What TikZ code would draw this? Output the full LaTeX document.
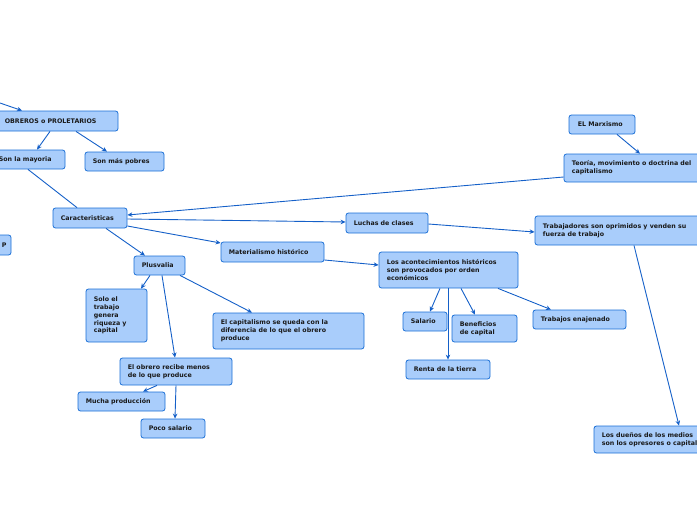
\documentclass[tikz,border=0pt]{standalone}
\usepackage{fontspec}
\setmainfont{DejaVu Sans}
\usetikzlibrary{arrows.meta}
\begin{document}
\begin{tikzpicture}[x=1pt,y=-1pt,
  box/.style={draw=bd,fill=bf,rounded corners=2.5pt,line width=0.8pt,inner sep=0pt},
  txt/.style={font=\bfseries\fontsize{6.3}{7.8}\selectfont,align=left,inner sep=0pt,text=black!90},
  ar/.style={draw=ln,line width=0.9pt,-{Stealth[length=5pt,width=4.5pt]}},
  pl/.style={draw=ln,line width=0.9pt}]
\definecolor{bd}{HTML}{1A6FD6}
\definecolor{bf}{HTML}{A9CDFB}
\definecolor{ln}{HTML}{1560C8}
\useasboundingbox (0,0) rectangle (697,520);
\clip (0,0) rectangle (697,520);
\newcommand\mybox[7]{%
  \pgfmathsetmacro\bw{#4-#2}\pgfmathsetmacro\bh{#5-#3}%
  \node[box,minimum width=\bw pt,minimum height=\bh pt] (#1) at ({(#2+#4)/2},{(#3+#5)/2}) {};
  \node[txt,anchor=west] at ([xshift=#6]#1.west) {#7};}
\mybox{obr}{-5}{111}{118}{131}{10}{OBREROS o PROLETARIOS}
\mybox{may}{-5}{150}{65}{169}{4}{Son la mayoria}
\mybox{pob}{85}{152}{164}{171}{8}{Son más pobres}
\mybox{car}{53}{208}{127}{228}{8}{Caracteristicas}
\mybox{pp}{-5}{235}{11}{255}{7}{P}
\mybox{plu}{134}{256}{185}{275}{8}{Plusvalia}
\mybox{mat}{221}{242}{324}{262}{8}{Materialismo histórico}
\mybox{luc}{346}{213}{428}{233}{8}{Luchas de clases}
\mybox{aco}{379}{252}{518}{288}{8}{Los acontecimientos históricos\\son provocados por orden\\económicos}
\mybox{mar}{569}{115}{635}{134}{9}{EL Marxismo}
\mybox{teo}{564}{154}{710}{182}{8}{Teoría, movimiento o doctrina del\\capitalismo}
\mybox{tra}{535}{216}{710}{245}{8}{Trabajadores son oprimidos y venden su\\fuerza de trabajo}
\mybox{sol}{86}{289}{147}{342}{8}{Solo el\\trabajo\\genera\\riqueza y\\capital}
\mybox{cap}{213}{313}{364}{349}{8}{El capitalismo se queda con la\\diferencia de lo que el obrero\\produce}
\mybox{rec}{120}{358}{232}{385}{8}{El obrero recibe menos\\de lo que produce}
\mybox{muc}{78}{392}{165}{411}{8}{Mucha producción}
\mybox{poc}{141}{419}{205}{438}{8}{Poco salario}
\mybox{sal}{403}{312}{447}{331}{8}{Salario}
\mybox{ben}{452}{315}{517}{342}{8}{Beneficios\\de capital}
\mybox{ena}{533}{310}{626}{329}{8}{Trabajos enajenado}
\mybox{ren}{406}{360}{490}{379}{8}{Renta de la tierra}
\mybox{due}{594}{426}{710}{453}{8}{Los dueños de los medios\\son los opresores o capitalistas}
\coordinate (src) at (0,103);
\draw[ar] (src) -- (22,0 |- obr.north);
\draw[ar] (50,0 |- obr.south) -- (37,0 |- may.north);
\draw[ar] (76,0 |- obr.south) -- (107,0 |- pob.north);
\draw[pl] (28,0 |- may.south) -- (77,0 |- car.north);
\draw[ar] (teo.west |- 0,177) -- (car.east |- 0,215);
\draw[ar] (car.east |- 0,219) -- (luc.west |- 0,222);
\draw[ar] (car.east |- 0,226) -- (mat.west |- 0,243);
\draw[ar] (106,0 |- car.south) -- (145,0 |- plu.north);
\draw[ar] (luc.east |- 0,224) -- (tra.west |- 0,232);
\draw[ar] (mat.east |- 0,260) -- (aco.west |- 0,265);
\draw[ar] (617,0 |- mar.south) -- (640,0 |- teo.north);
\draw[ar] (634,0 |- tra.south) -- (679,0 |- due.north);
\draw[ar] (440,0 |- aco.south) -- (430,0 |- sal.north);
\draw[ar] (448,0 |- aco.south) -- (448,0 |- ren.north);
\draw[ar] (461,0 |- aco.south) -- (475,0 |- ben.north);
\draw[ar] (498,0 |- aco.south) -- (551,0 |- ena.north);
\draw[ar] (150,0 |- plu.south) -- (141,0 |- sol.north);
\draw[ar] (162,0 |- plu.south) -- (175,0 |- rec.north);
\draw[ar] (180,0 |- plu.south) -- (252,0 |- cap.north);
\draw[ar] (157,0 |- rec.south) -- (143,0 |- muc.north);
\draw[ar] (176,0 |- rec.south) -- (175,0 |- poc.north);
\end{tikzpicture}
\end{document}
